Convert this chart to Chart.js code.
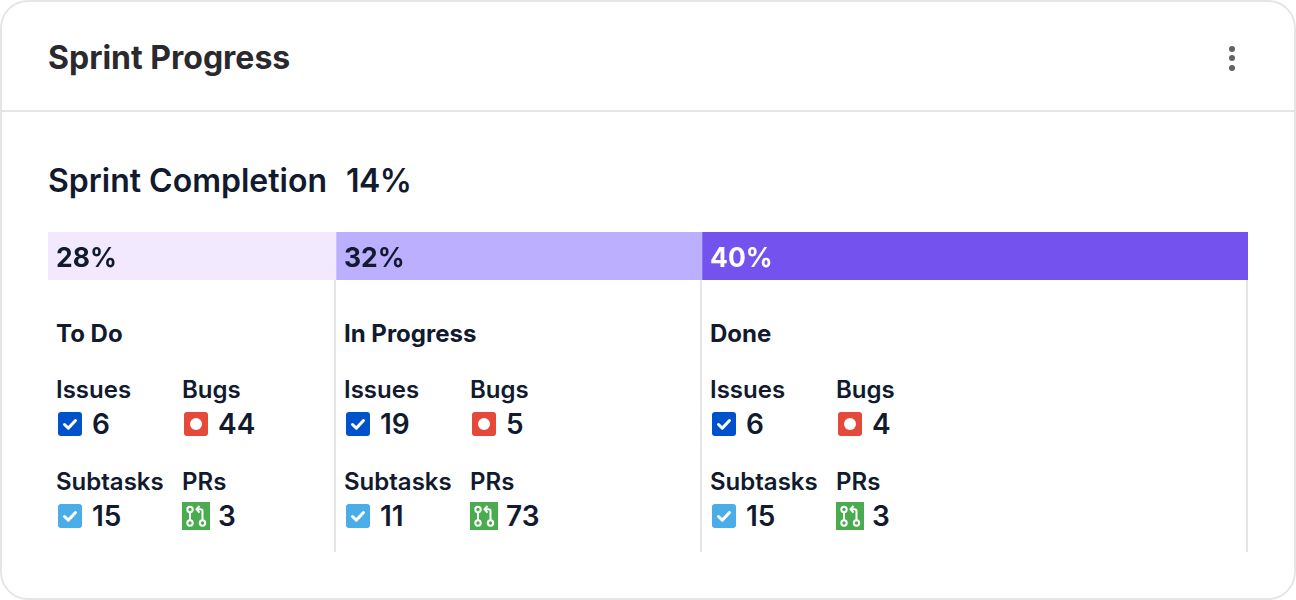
<!DOCTYPE html>
<html>
<head>
<meta charset="utf-8">
<script src="https://cdn.jsdelivr.net/npm/chart.js@4"></script>
<style>
  html, body { margin: 0; padding: 0; background: #fff; }
  body { width: 1296px; height: 600px; position: relative; overflow: hidden; font-family: Inter, sans-serif; color: #111a2e; }
  .abs { position: absolute; white-space: nowrap; line-height: 1; }
  #card { position: absolute; left: 0; top: 0; width: 1292px; height: 596px; border: 2px solid #e5e5e5; border-radius: 28px; }
  #rule { position: absolute; left: 2px; top: 110px; width: 1292px; height: 2px; background: #e5e5e5; }
  #title { left: 48px; top: 42px; font-size: 32px; font-weight: 700; color: #2a2a2e; }
  #dots { position: absolute; left: 1229px; top: 45.5px; }
  #dots i { display: block; width: 6px; height: 6px; border-radius: 50%; background: #616166; margin-bottom: 3.5px; }
  #complete { left: 48px; top: 165px; font-size: 32px; font-weight: 600; }
  #completeVal { left: 346px; top: 165px; font-size: 32px; font-weight: 600; letter-spacing: -0.6px; }
  #barWrap { position: absolute; left: 48px; top: 232px; width: 1200px; height: 48px; }
  .divider { position: absolute; top: 280px; width: 2px; height: 272px; background: #e5e5e5; }
  .status { font-size: 24px; font-weight: 700; }
  .label { font-size: 24px; font-weight: 600; }
  .num { font-size: 28px; font-weight: 600; }
  .icon { position: absolute; }
</style>
</head>
<body>
<div id="card"></div>
<div id="rule"></div>
<div class="abs" id="title">Sprint Progress</div>
<div id="dots"><i></i><i></i><i></i></div>
<div class="abs" id="complete">Sprint Completion</div>
<div class="abs" id="completeVal"></div>
<div id="barWrap"><canvas id="bar"></canvas></div>
<div id="cols"></div>

<script>
const completion = 14;
const categories = ['To Do', 'In Progress', 'Done'];
const percentLabels = [28, 32, 40];
// drawn lengths of the segments (they are not the printed percentages)
const barLengths = [24, 30.5, 45.5];
const barColors = ['#f2e9fe', '#bcaffd', '#7352ee'];
const barTextColors = ['#111a2e', '#111a2e', '#ffffff'];
const issues = [6, 19, 6];
const bugs = [44, 5, 4];
const subtasks = [15, 11, 15];
const prs = [3, 73, 3];

const ICONS = {
  issue: '<svg width="24" height="24"><rect width="24" height="24" rx="3" fill="#0052cc"/><path d="M6.5 12.5l3.8 3.6 7.2-7.6" fill="none" stroke="#fff" stroke-width="3" stroke-linecap="round" stroke-linejoin="round"/></svg>',
  bug: '<svg width="24" height="24"><rect width="24" height="24" rx="3" fill="#e5493a"/><circle cx="12" cy="12" r="6" fill="#fff"/></svg>',
  subtask: '<svg width="24" height="24"><rect width="24" height="24" rx="3" fill="#4bade8"/><path d="M6.5 12.5l3.8 3.6 7.2-7.6" fill="none" stroke="#fff" stroke-width="3" stroke-linecap="round" stroke-linejoin="round"/></svg>',
  pr: '<svg width="28" height="28"><rect width="28" height="28" fill="#4bab4f"/><g fill="none" stroke="#fff" stroke-width="2"><circle cx="8" cy="7.5" r="2.7"/><circle cx="8" cy="21" r="2.7"/><circle cx="20.5" cy="21" r="2.7"/><path d="M8 10.2v8.1"/><path d="M20.5 18.3v-9q0-2-2-2h-3"/><path d="M17.5 4l-3 3.3 3 3.3"/></g></svg>'
};

// writes the percentages inside each segment
const segmentLabels = {
  id: 'segmentLabels',
  afterDatasetsDraw(chart) {
    const ctx = chart.ctx;
    ctx.save();
    ctx.font = '700 26.5px Inter';
    ctx.textBaseline = 'middle';
    chart.data.datasets.forEach((ds, i) => {
      const el = chart.getDatasetMeta(i).data[0];
      ctx.fillStyle = barTextColors[i];
      ctx.fillText(percentLabels[i] + '%', el.base + 8, el.y + 3);
    });
    ctx.restore();
  }
};

document.getElementById('completeVal').textContent = completion + '%';

const chart = new Chart(document.getElementById('bar'), {
  type: 'bar',
  data: {
    labels: ['Sprint'],
    datasets: categories.map((c, i) => ({
      label: c,
      data: [barLengths[i]],
      backgroundColor: barColors[i],
      barPercentage: 1,
      categoryPercentage: 1
    }))
  },
  options: {
    indexAxis: 'y',
    animation: false,
    responsive: true,
    maintainAspectRatio: false,
    layout: { padding: 0 },
    plugins: { legend: { display: false }, tooltip: { enabled: false } },
    scales: {
      x: { stacked: true, display: false, min: 0, max: 100 },
      y: { stacked: true, display: false }
    }
  },
  plugins: [segmentLabels]
});

function addText(parent, cls, text, x, y) {
  const d = document.createElement('div');
  d.className = 'abs ' + cls;
  d.textContent = text;
  d.style.left = x + 'px';
  d.style.top = y + 'px';
  parent.appendChild(d);
}

function addIcon(parent, svg, x, y) {
  const d = document.createElement('div');
  d.className = 'icon';
  d.innerHTML = svg;
  d.style.left = x + 'px';
  d.style.top = y + 'px';
  parent.appendChild(d);
}

// column positions come from the bar scale so they stay lined up with the segments
const cols = document.getElementById('cols');
let running = 0;
categories.forEach((c, i) => {
  const x0 = 48 + chart.scales.x.getPixelForValue(running);
  running += barLengths[i];
  const x1 = 48 + chart.scales.x.getPixelForValue(running);

  const div = document.createElement('div');
  div.className = 'divider';
  div.style.left = (x1 - 2) + 'px';
  cols.appendChild(div);

  const a = x0 + 8, b = x0 + 134;
  addText(cols, 'status', c, a, 322);
  addText(cols, 'label', 'Issues', a, 378);
  addText(cols, 'label', 'Bugs', b, 378);
  addIcon(cols, ICONS.issue, x0 + 10, 412);
  addIcon(cols, ICONS.bug, x0 + 136, 412);
  addText(cols, 'num', issues[i], x0 + 44, 410);
  addText(cols, 'num', bugs[i], x0 + 170, 410);
  addText(cols, 'label', 'Subtasks', a, 470);
  addText(cols, 'label', 'PRs', b, 470);
  addIcon(cols, ICONS.subtask, x0 + 10, 504);
  addIcon(cols, ICONS.pr, x0 + 134, 502);
  addText(cols, 'num', subtasks[i], x0 + 44, 502);
  addText(cols, 'num', prs[i], x0 + 170, 502);
});
</script>
</body>
</html>
